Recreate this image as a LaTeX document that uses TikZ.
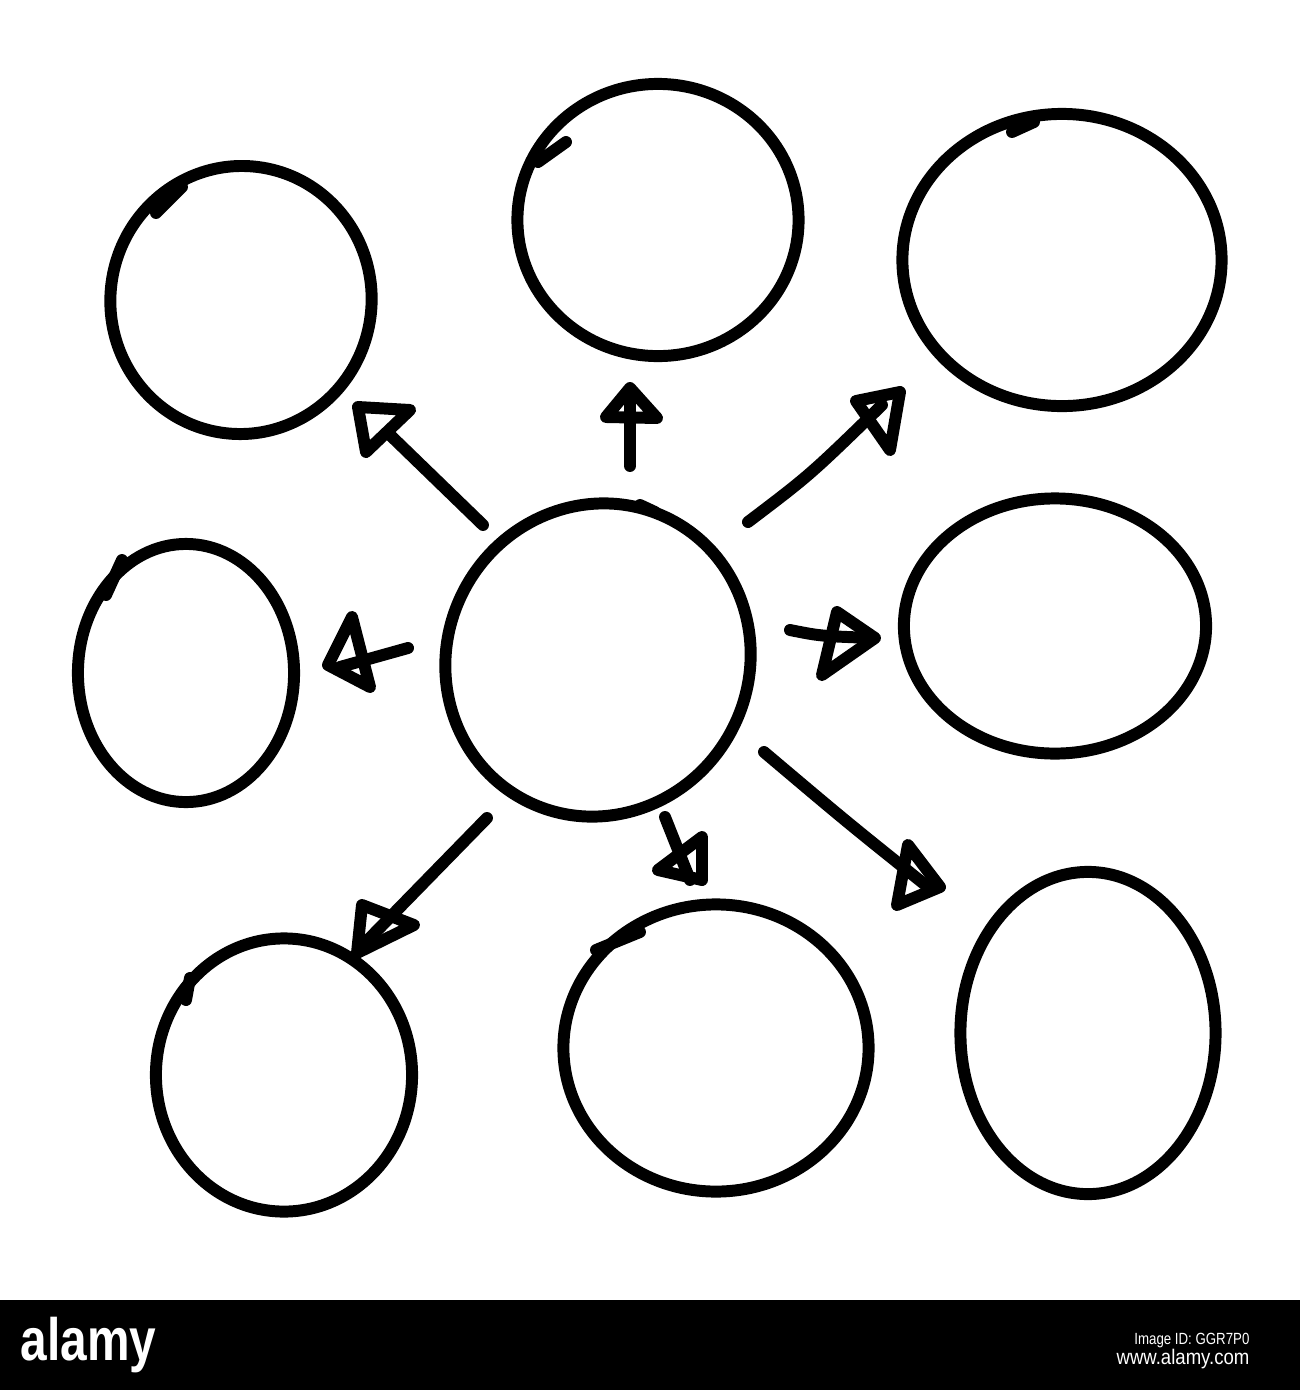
\documentclass[tikz,border=0pt]{standalone}
\usepackage{fontspec}
\setmainfont{Liberation Sans}
\usetikzlibrary{shapes.geometric}
\begin{document}
\begin{tikzpicture}[x=0.01cm,y=-0.01cm,
  pen/.style={line width=3.4pt,line cap=round,line join=round,black},
  blob/.style 2 args={pen,draw,ellipse,inner sep=0pt,minimum width=#1cm,minimum height=#2cm},
  wm/.style={text=white,inner sep=0pt}]
\useasboundingbox (0,0) rectangle (1300,1390);
\fill[white] (0,0) rectangle (1300,1300);
% circles
\node[blob={2.61}{2.68},rotate=-8] (c1) at (241,300) {};
\node[blob={2.81}{2.72}] (c2) at (658,220) {};
\node[blob={3.19}{2.92}] (c3) at (1062,260) {};
\node[blob={2.16}{2.58}] (c4) at (186,673) {};
\node[blob={3.02}{3.16},rotate=-28] (c5) at (598,660) {};
\node[blob={3.02}{2.55}] (c6) at (1055,626) {};
\node[blob={2.56}{2.73}] (c7) at (284,1075) {};
\node[blob={3.05}{2.87}] (c8) at (716,1048) {};
\node[blob={2.55}{3.22}] (c9) at (1088,1033) {};
% stroke start ticks
\coordinate (k1a) at (156,213); \coordinate (k1b) at (182,187);
\coordinate (k2a) at (538,162); \coordinate (k2b) at (566,142);
\coordinate (k3a) at (1012,132); \coordinate (k3b) at (1034,122);
\coordinate (k4a) at (106,595); \coordinate (k4b) at (122,560);
\coordinate (k7a) at (186,1000); \coordinate (k7b) at (190,978);
\coordinate (k8a) at (596,950); \coordinate (k8b) at (640,932);
\coordinate (k5a) at (640,505); \coordinate (k5b) at (655,512);
\foreach \k in {1,2,3,4,5,7,8}{\draw[pen] (k\k a) -- (k\k b);}
% arrows: coordinates
\coordinate (a1s) at (483,525); \coordinate (a1e) at (388,433);
\coordinate (a1p) at (358,407); \coordinate (a1q) at (410,410); \coordinate (a1r) at (366,452);
\coordinate (a2s) at (630,466); \coordinate (a2e) at (630,400);
\coordinate (a2p) at (630,388); \coordinate (a2q) at (606,417); \coordinate (a2r) at (657,418);
\coordinate (a3s) at (748,522); \coordinate (a3m) at (810,475); \coordinate (a3e) at (882,405);
\coordinate (a3p) at (856,401); \coordinate (a3q) at (900,392); \coordinate (a3r) at (890,450);
\coordinate (a4s) at (408,648); \coordinate (a4e) at (340,667);
\coordinate (a4p) at (352,617); \coordinate (a4q) at (328,665); \coordinate (a4r) at (370,687);
\coordinate (a5s) at (790,630); \coordinate (a5m) at (820,636); \coordinate (a5e) at (873,638);
\coordinate (a5p) at (837,612); \coordinate (a5q) at (875,638); \coordinate (a5r) at (822,675);
\coordinate (a6s) at (487,818); \coordinate (a6e) at (362,946);
\coordinate (a6p) at (357,953); \coordinate (a6q) at (362,905); \coordinate (a6r) at (414,925);
\coordinate (a7s) at (665,817); \coordinate (a7e) at (690,880);
\coordinate (a7p) at (658,870); \coordinate (a7q) at (702,837); \coordinate (a7r) at (702,880);
\coordinate (a8s) at (764,752); \coordinate (a8m) at (848,823); \coordinate (a8e) at (928,887);
\coordinate (a8p) at (908,845); \coordinate (a8q) at (940,887); \coordinate (a8r) at (897,905);
% shafts
\draw[pen] (a1s) -- (a1e);
\draw[pen] (a2s) -- (a2e);
\draw[pen] (a3s) .. controls (a3m) .. (a3e);
\draw[pen] (a4s) -- (a4e);
\draw[pen] (a5s) .. controls (a5m) .. (a5e);
\draw[pen] (a6s) -- (a6e);
\draw[pen] (a7s) -- (a7e);
\draw[pen] (a8s) .. controls (a8m) .. (a8e);
% heads
\foreach \i in {1,...,8}{\draw[pen] (a\i p) -- (a\i q) -- (a\i r) -- cycle;}
% bottom bar
\fill[black] (0,1300) rectangle (1300,1390);
\node[wm,anchor=base west,font=\fontsize{17}{17}\selectfont\bfseries,xscale=0.8] (logo) at (20,1360) {alamy};
\node[wm,anchor=base east,font=\fontsize{4.6}{5}\selectfont,xscale=0.82] (imgid) at (1250,1344) {Image ID: GGR7P0};
\node[wm,anchor=base east,font=\fontsize{6}{6}\selectfont,xscale=0.88] (www) at (1250,1364) {www.alamy.com};
\end{tikzpicture}
\end{document}
